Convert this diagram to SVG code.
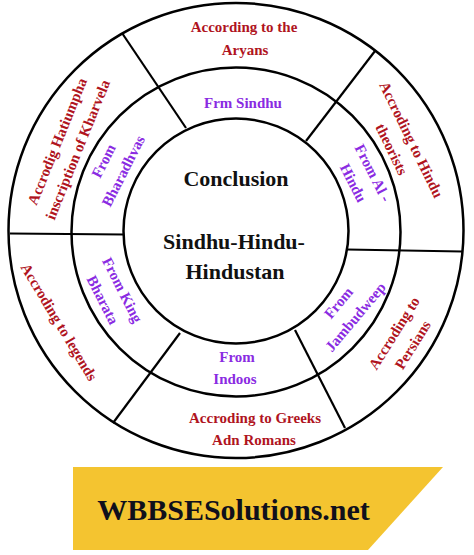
<svg xmlns="http://www.w3.org/2000/svg" width="474" height="555" viewBox="0 0 474 555">
<style>
  .ring { fill: none; stroke: #000; stroke-width: 2.5; }
  .div { stroke: #000; stroke-width: 2.2; fill: none; }
  text { font-family: "Liberation Serif", "Times New Roman", serif; font-weight: bold; text-anchor: middle; }
  .red { fill: #b0141e; font-size: 15px; }
  .pur { fill: #8a2be2; font-size: 15px; }
  .ctr { fill: #111; font-size: 22px; }
  .brand { fill: #10101c; font-size: 30px; }
</style>
<rect width="474" height="555" fill="#fff"/>
<g id="rings">
  <circle class="ring" cx="236" cy="230.5" r="227.5"/>
  <circle class="ring" cx="236" cy="232" r="164.5"/>
  <circle class="ring" cx="236" cy="231" r="112.5"/>
</g>
<g id="connectors">
  <line class="div" x1="122" y1="33" x2="186" y2="128"/>
  <line class="div" x1="375" y1="51" x2="306" y2="141"/>
  <line class="div" x1="10" y1="233.5" x2="124" y2="234.5"/>
  <line class="div" x1="347" y1="249.5" x2="462" y2="251.5"/>
  <line class="div" x1="180" y1="333" x2="113" y2="423"/>
  <line class="div" x1="295" y1="330" x2="345" y2="428"/>
</g>
<g id="center">
  <text class="ctr" x="236" y="186">Conclusion</text>
  <text class="ctr" x="234" y="249">Sindhu-Hindu-</text>
  <text class="ctr" x="235" y="279">Hindustan</text>
</g>
<g id="aryans">
  <text class="red" x="244" y="32">According to the</text>
  <text class="red" x="245" y="55">Aryans</text>
</g>
<g id="sindhu">
  <text class="pur" x="243" y="108">Frm Sindhu</text>
</g>
<g id="kharvela" transform="translate(67.5,145.5) rotate(-68)">
  <text class="red" x="0" y="-6">Accrodig Hatiumpha</text>
  <text class="red" x="0" y="16">inscription of Kharvela</text>
</g>
<g id="bharadhvas" transform="translate(113.5,166) rotate(-63)">
  <text class="pur" x="0" y="-6">From</text>
  <text class="pur" x="0" y="16">Bharadhvas</text>
</g>
<g id="hindu-theorists" transform="translate(401.5,144.5) rotate(64)">
  <text class="red" x="0" y="-6">Accroding to Hindu</text>
  <text class="red" x="0" y="16">theorists</text>
</g>
<g id="al-hindu" transform="translate(363,178) rotate(63)">
  <text class="pur" x="0" y="-6">From Al -</text>
  <text class="pur" x="0" y="16">Hindu</text>
</g>
<g id="legends" transform="translate(59,322) rotate(59)">
  <text class="red" x="0" y="5">Accroding to legends</text>
</g>
<g id="king-bharata" transform="translate(112.5,295) rotate(63)">
  <text class="pur" x="0" y="-6">From King</text>
  <text class="pur" x="0" y="16">Bharata</text>
</g>
<g id="indoos">
  <text class="pur" x="237" y="362">From</text>
  <text class="pur" x="235" y="384">Indoos</text>
</g>
<g id="greeks">
  <text class="red" x="255" y="423">Accroding to Greeks</text>
  <text class="red" x="254" y="445">Adn Romans</text>
</g>
<g id="jambudweep" transform="translate(347,310) rotate(-50)">
  <text class="pur" x="0" y="-6">From</text>
  <text class="pur" x="0" y="16">Jambudweep</text>
</g>
<g id="persians" transform="translate(403.5,339) rotate(-58)">
  <text class="red" x="0" y="-6">Accroding to</text>
  <text class="red" x="0" y="16">Persians</text>
</g>
<g id="banner">
  <polygon points="73,467 443,467 368,550 73,550" fill="#f4c430"/>
  <text class="brand" x="233.5" y="520">WBBSESolutions.net</text>
</g>
</svg>
